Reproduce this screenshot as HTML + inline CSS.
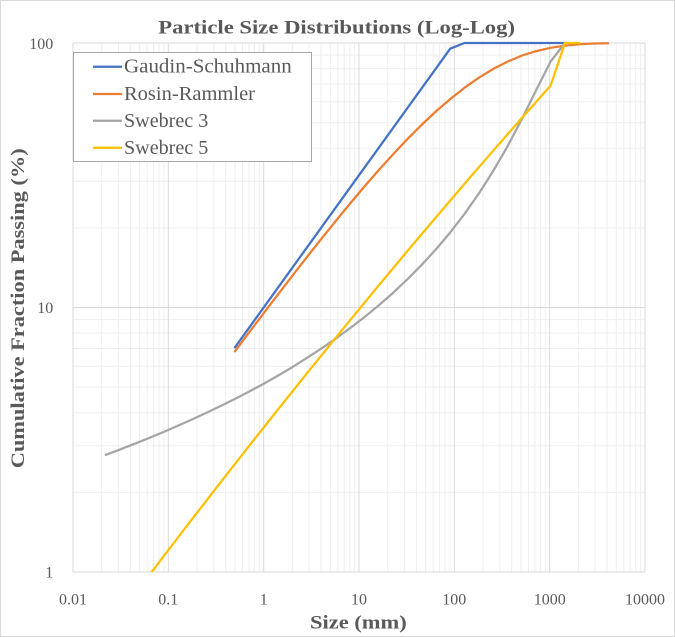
<!DOCTYPE html>
<html><head><meta charset="utf-8"><style>
html,body{margin:0;padding:0;background:#fff;}
svg{display:block;}
text{font-family:"Liberation Serif","DejaVu Serif",serif;fill:#595959;}
</style></head><body>
<svg width="675" height="637" viewBox="0 0 675 637" xmlns="http://www.w3.org/2000/svg">
<rect x="0.5" y="0.5" width="674" height="636" fill="#fff" stroke="#d9d9d9" stroke-width="1"/>
<defs><clipPath id="pc"><rect x="73" y="36" width="574" height="536"/></clipPath></defs>
<!-- minor grid -->
<g stroke="#efefef" stroke-width="1">
<path d="M101.7 43V572M118.5 43V572M130.4 43V572M139.6 43V572M147.2 43V572M153.6 43V572M159.1 43V572M164 43V572
M197 43V572M213.8 43V572M225.7 43V572M235 43V572M242.5 43V572M248.9 43V572M254.4 43V572M259.3 43V572
M292.4 43V572M309.1 43V572M321.1 43V572M330.3 43V572M337.8 43V572M344.2 43V572M349.8 43V572M354.6 43V572
M387.7 43V572M404.5 43V572M416.4 43V572M425.6 43V572M433.2 43V572M439.6 43V572M445.1 43V572M450 43V572
M483 43V572M499.8 43V572M511.7 43V572M521 43V572M528.5 43V572M534.9 43V572M540.4 43V572M545.3 43V572
M578.3 43V572M595.1 43V572M607 43V572M616.3 43V572M623.8 43V572M630.2 43V572M635.7 43V572M640.6 43V572
M73 492.4H645M73 445.8H645M73 412.8H645M73 387.1H645M73 366.2H645M73 348.5H645M73 333.1H645M73 319.6H645
M73 227.9H645M73 181.3H645M73 148.3H645M73 122.6H645M73 101.7H645M73 84H645M73 68.6H645M73 55.1H645"/>
</g>
<!-- major grid -->
<g stroke="#d9d9d9" stroke-width="1">
<path d="M73 43V572M168.3 43V572M263.7 43V572M359 43V572M454.3 43V572M549.7 43V572M645 43V572
M73 43H645M73 307.5H645M73 572H645"/>
</g>
<!-- series -->
<g clip-path="url(#pc)" fill="none" stroke-width="2.25" stroke-linejoin="round" stroke-linecap="round">
<polyline stroke="#4472C4" points="235,347.3 450.2,48.7 464.5,43 565,43"/>
<polyline stroke="#ED7D31" points="235,351.3 249.3,332.2 263.7,313.2 278,294.4 292.4,275.7 306.7,257.3 321.1,239.2 335.4,221.4 349.8,203.9 364.1,186.9 378.4,170.5 392.8,154.6 407.1,139.4 421.5,125 435.8,111.5 450.2,99.1 464.5,87.7 478.9,77.7 493.2,68.9 507.6,61.6 521.9,55.6 536.3,51.1 550.6,47.8 565,45.6 579.3,44.25 593.7,43.5 608,43.2"/>
<polyline stroke="#A5A5A5" points="105.8,454.8 120.2,449.4 134.5,443.8 148.9,438.1 163.2,432.1 177.6,425.9 191.9,419.5 206.3,412.9 220.6,406 235,398.9 249.3,391.5 263.7,383.7 278,375.6 292.4,367.1 306.7,358.1 321.1,348.7 335.4,338.9 349.8,328.4 364.1,317.4 378.4,305.6 392.8,293.1 407.1,279.6 421.5,265.1 435.8,249.5 450.2,232.5 464.5,213.9 478.9,193.5 493.2,171 507.6,146.2 521.9,119 536.3,89.9 550.6,61.5 565,43"/>
<polyline stroke="#FFC000" points="148.9,575.7 163.2,556.8 177.6,538 191.9,519.3 206.3,500.8 220.6,482.3 235,463.9 249.3,445.7 263.7,427.5 278,409.4 292.4,391.5 306.7,373.6 321.1,355.8 335.4,338.2 349.8,320.6 364.1,303.2 378.4,285.8 392.8,268.6 407.1,251.4 421.5,234.4 435.8,217.5 450.2,200.6 464.5,183.9 478.9,167.2 493.2,150.7 507.6,134.3 521.9,117.9 536.3,101.7 550.6,85.6 565,43 579.3,43"/>
</g>
<!-- legend -->
<rect x="73.5" y="52.5" width="238" height="109" fill="#fff" stroke="#a6a6a6" stroke-width="1"/>
<g stroke-width="2.25">
<line x1="93" y1="66.7" x2="122" y2="66.7" stroke="#4472C4"/>
<line x1="93" y1="94" x2="122" y2="94" stroke="#ED7D31"/>
<line x1="93" y1="120.7" x2="122" y2="120.7" stroke="#A5A5A5"/>
<line x1="93" y1="147.7" x2="122" y2="147.7" stroke="#FFC000"/>
</g>
<g font-size="20">
<text x="124" y="72.7" textLength="167.7" lengthAdjust="spacingAndGlyphs">Gaudin-Schuhmann</text>
<text x="124" y="100" textLength="131" lengthAdjust="spacingAndGlyphs">Rosin-Rammler</text>
<text x="124" y="127" textLength="84.3" lengthAdjust="spacingAndGlyphs">Swebrec 3</text>
<text x="124" y="154" textLength="84.3" lengthAdjust="spacingAndGlyphs">Swebrec 5</text>
</g>
<!-- title -->
<text x="158.3" y="33.3" font-size="19" font-weight="bold" textLength="356.7" lengthAdjust="spacingAndGlyphs">Particle Size Distributions (Log-Log)</text>
<!-- y tick labels -->
<g font-size="16" text-anchor="end">
<text x="53.3" y="49">100</text>
<text x="53.3" y="313">10</text>
<text x="53.3" y="577.7">1</text>
</g>
<!-- x tick labels -->
<g font-size="16" text-anchor="middle">
<text x="73" y="604.3">0.01</text>
<text x="168.3" y="604.3">0.1</text>
<text x="263.7" y="604.3">1</text>
<text x="359" y="604.3">10</text>
<text x="454.3" y="604.3">100</text>
<text x="549.7" y="604.3">1000</text>
<text x="645" y="604.3">10000</text>
</g>
<!-- axis titles -->
<text x="310" y="628.3" font-size="19" font-weight="bold" textLength="96.7" lengthAdjust="spacingAndGlyphs">Size (mm)</text>
<text transform="translate(24,468.3) rotate(-90)" x="0" y="0" font-size="19" font-weight="bold" textLength="320" lengthAdjust="spacingAndGlyphs">Cumulative Fraction Passing (%)</text>
</svg>
</body></html>
